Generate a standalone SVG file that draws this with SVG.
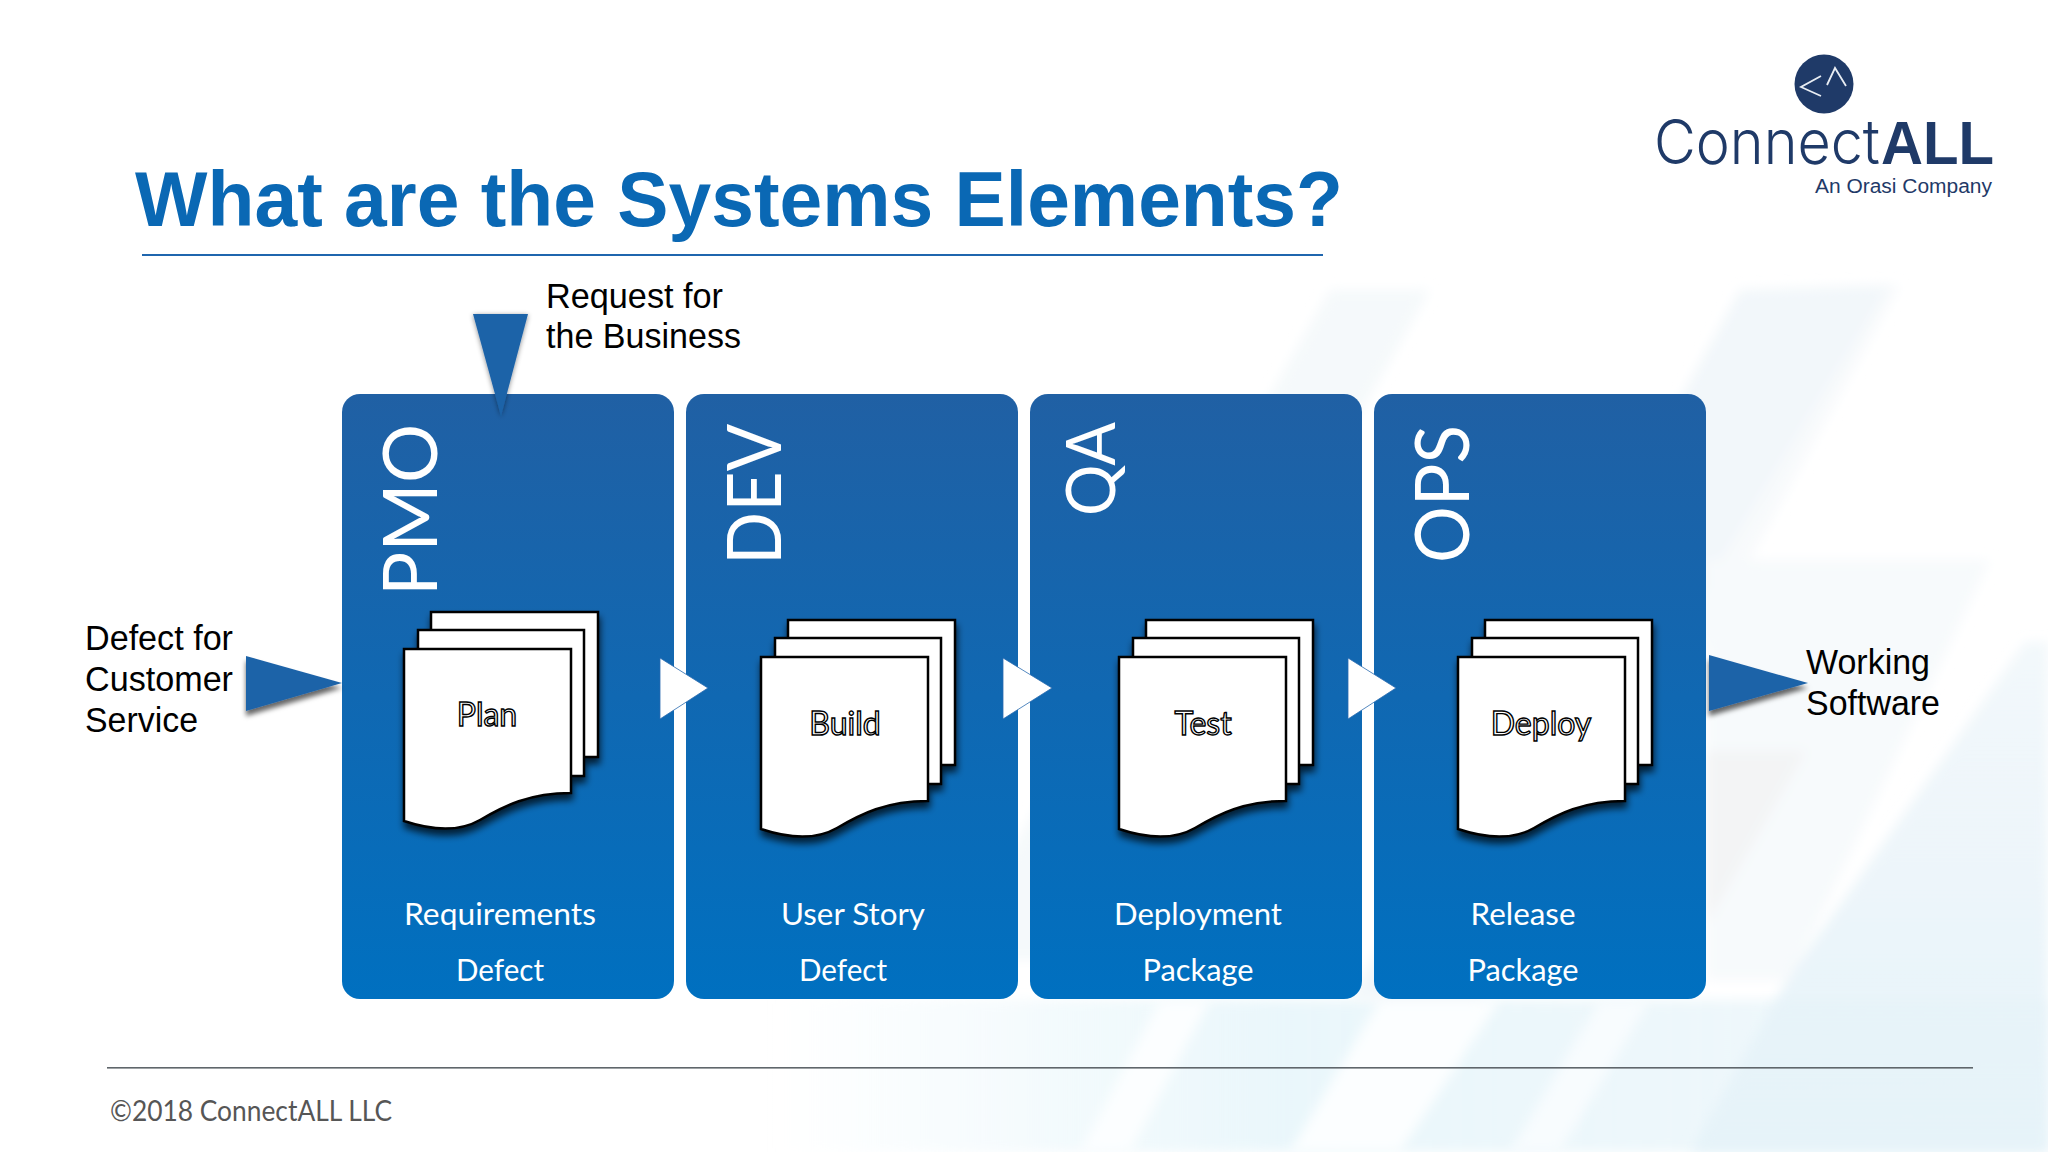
<svg xmlns="http://www.w3.org/2000/svg" width="2048" height="1152" viewBox="0 0 2048 1152">
<style>
.lbl{font-family:"Liberation Sans",Arial,sans-serif;font-size:35px;fill:#000}
.head{font-family:Lato,"Noto Sans",sans-serif;font-size:75px;fill:#fff}
.sub{font-family:Lato,"Noto Sans",sans-serif;font-size:31px;fill:#fff;text-anchor:middle}
.doc{font-family:Lato,"Noto Sans",sans-serif;font-size:32px;fill:#fff;stroke:#000;stroke-width:1.4px;text-anchor:middle}
.sheet{fill:#fff;stroke:#000;stroke-width:2.5}
.panel{fill:url(#pg)}
.tri{fill:#1f63a8}
.wtri{fill:#fff;stroke:#2a6bb0;stroke-width:0.8}
</style>
<defs>
<linearGradient id="pg" x1="0" y1="0" x2="0" y2="1"><stop offset="0" stop-color="#2060a4"/><stop offset="1" stop-color="#0070c0"/></linearGradient>
<linearGradient id="bgv" x1="0" y1="0" x2="0" y2="1"><stop offset="0" stop-color="#e6f1f7" stop-opacity="0.5"/><stop offset="1" stop-color="#e6f3f9"/></linearGradient>
<linearGradient id="bgh" x1="0" y1="0" x2="1" y2="0"><stop offset="0" stop-color="#e8f6fb" stop-opacity="0"/><stop offset="0.4" stop-color="#e8f6fb" stop-opacity="0.9"/><stop offset="1" stop-color="#f1f8fb"/></linearGradient>
<filter id="blur" x="-10%" y="-10%" width="120%" height="120%"><feGaussianBlur stdDeviation="6"/></filter>
<filter id="ds" x="-20%" y="-20%" width="140%" height="140%"><feDropShadow dx="1" dy="6" stdDeviation="3.5" flood-color="#000" flood-opacity="0.7"/></filter>
<filter id="ts" x="-30%" y="-30%" width="160%" height="160%"><feDropShadow dx="0" dy="5" stdDeviation="2.5" flood-color="#000" flood-opacity="0.6"/></filter>
<filter id="td" x="-40%" y="-20%" width="180%" height="140%"><feDropShadow dx="0" dy="1" stdDeviation="2.5" flood-color="#000" flood-opacity="0.45"/></filter>
<g id="stack" filter="url(#ds)">
<path class="sheet" d="M27-37H194V108H27Z"/>
<path class="sheet" d="M14-19H180V127H14Z"/>
<path class="sheet" d="M0 0H167V144C125 144 100 157 76 171C55 183 30 182 0 172Z"/>
</g>
</defs>
<rect width="2048" height="1152" fill="#fff"/>
<g id="background">
<rect x="770" y="1000" width="1278" height="152" fill="url(#bgh)" filter="url(#blur)"/>
<g filter="url(#blur)">
<polygon points="1330,290 1430,290 1050,960 950,960" fill="#f5f9fb"/>
<polygon points="1740,290 1890,285 1480,1000 1350,1000" fill="#f2f7fa"/>
<polygon points="1890,285 1900,285 1640,760 1600,760" fill="#f8fafc"/>
<polygon points="2025,642 2048,642 2048,1152 1690,1152 1787,980" fill="url(#bgv)"/>
<polygon points="1706,560 1990,560 1790,980 1706,980" fill="#f7fafc"/>
<polygon points="1706,751 1806,751 1706,925" fill="#f3f4f5"/>
<polygon points="1380,1000 1500,1000 1400,1152 1290,1152" fill="#fcfeff"/>
<polygon points="1160,1000 1210,1000 1130,1152 1080,1152" fill="#fcfeff"/>
<polygon points="1600,1000 1650,1000 1560,1152 1510,1152" fill="#f8fcfe"/>
</g>
</g>
<text x="135" y="226" font-family="Liberation Sans,Arial,sans-serif" font-weight="700" font-size="77" fill="#0a68b4" textLength="1208" lengthAdjust="spacingAndGlyphs">What are the Systems Elements?</text>
<rect x="142" y="254" width="1181" height="2" fill="#1f66ae"/>
<g id="logo">
<circle cx="1824" cy="84" r="29.5" fill="#1f3a68"/>
<path d="M1821 76L1801 87L1821 96M1827 85L1835 68L1846 86" fill="none" stroke="#e8edf3" stroke-width="1.8"/>
<text x="1654" y="164" font-family="Inter,Liberation Sans,sans-serif" font-weight="300" font-size="62" fill="#1f3a68" textLength="226" lengthAdjust="spacingAndGlyphs">Connect</text>
<text x="1881" y="164" font-family="Liberation Sans,Arial,sans-serif" font-weight="700" font-size="62" fill="#1f3a68" textLength="113" lengthAdjust="spacingAndGlyphs">ALL</text>
<text x="1815" y="193" font-family="Liberation Sans,Arial,sans-serif" font-size="20" fill="#1f3a68" textLength="177" lengthAdjust="spacingAndGlyphs">An Orasi Company</text>
</g>
<g id="panels">
<g id="node-pmo">
<rect class="panel" x="342" y="394" width="332" height="605" rx="18"/>
<text class="head" transform="translate(437,596) rotate(-90)" textLength="172" lengthAdjust="spacingAndGlyphs">PMO</text>
<use href="#stack" x="404" y="649"/>
<text class="doc" x="487" y="726">Plan</text>
<text class="sub" x="500" y="925" textLength="192" lengthAdjust="spacingAndGlyphs">Requirements</text>
<text class="sub" x="500" y="981" textLength="88" lengthAdjust="spacingAndGlyphs">Defect</text>
</g>
<g id="node-dev">
<rect class="panel" x="686" y="394" width="332" height="605" rx="18"/>
<text class="head" transform="translate(781,565) rotate(-90)" textLength="141" lengthAdjust="spacingAndGlyphs">DEV</text>
<use href="#stack" x="761" y="657"/>
<text class="doc" x="845" y="735">Build</text>
<text class="sub" x="853" y="925" textLength="144" lengthAdjust="spacingAndGlyphs">User Story</text>
<text class="sub" x="843" y="981" textLength="88" lengthAdjust="spacingAndGlyphs">Defect</text>
</g>
<g id="node-qa">
<rect class="panel" x="1030" y="394" width="332" height="605" rx="18"/>
<text class="head" style="font-size:68px" transform="translate(1115,516) rotate(-90)" textLength="94" lengthAdjust="spacingAndGlyphs">QA</text>
<use href="#stack" x="1119" y="657"/>
<text class="doc" x="1203" y="735">Test</text>
<text class="sub" x="1198" y="925" textLength="168" lengthAdjust="spacingAndGlyphs">Deployment</text>
<text class="sub" x="1198" y="981" textLength="111" lengthAdjust="spacingAndGlyphs">Package</text>
</g>
<g id="node-ops">
<rect class="panel" x="1374" y="394" width="332" height="605" rx="18"/>
<text class="head" transform="translate(1469,563) rotate(-90)" textLength="138" lengthAdjust="spacingAndGlyphs">OPS</text>
<use href="#stack" x="1458" y="657"/>
<text class="doc" x="1541" y="735">Deploy</text>
<text class="sub" x="1523" y="925" textLength="105" lengthAdjust="spacingAndGlyphs">Release</text>
<text class="sub" x="1523" y="981" textLength="111" lengthAdjust="spacingAndGlyphs">Package</text>
</g>
</g>
<g id="connectors">
<polygon class="tri" filter="url(#td)" points="473,314 528,314 501,416"/>
<polygon class="tri" filter="url(#ts)" points="246,656 342,683 246,711"/>
<polygon class="tri" filter="url(#ts)" points="1709,655 1808,683 1709,711"/>
<polygon class="wtri" points="660,658 708,688 660,719"/>
<polygon class="wtri" points="1003,658 1052,688 1003,719"/>
<polygon class="wtri" points="1348,658 1396,688 1348,719"/>
</g>
<g id="labels">
<text class="lbl" x="546" y="308" textLength="177" lengthAdjust="spacingAndGlyphs">Request for</text>
<text class="lbl" x="546" y="348" textLength="195" lengthAdjust="spacingAndGlyphs">the Business</text>
<text class="lbl" x="85" y="650" textLength="148" lengthAdjust="spacingAndGlyphs">Defect for</text>
<text class="lbl" x="85" y="691" textLength="148" lengthAdjust="spacingAndGlyphs">Customer</text>
<text class="lbl" x="85" y="732" textLength="113" lengthAdjust="spacingAndGlyphs">Service</text>
<text class="lbl" x="1806" y="674" textLength="124" lengthAdjust="spacingAndGlyphs">Working</text>
<text class="lbl" x="1806" y="715" textLength="134" lengthAdjust="spacingAndGlyphs">Software</text>
</g>
<rect x="107" y="1067" width="1866" height="1.6" fill="#5f666b"/>
<text x="110" y="1121" font-family="Lato,Noto Sans,sans-serif" font-size="29" fill="#565656" textLength="282" lengthAdjust="spacingAndGlyphs">©2018 ConnectALL LLC</text>
</svg>
